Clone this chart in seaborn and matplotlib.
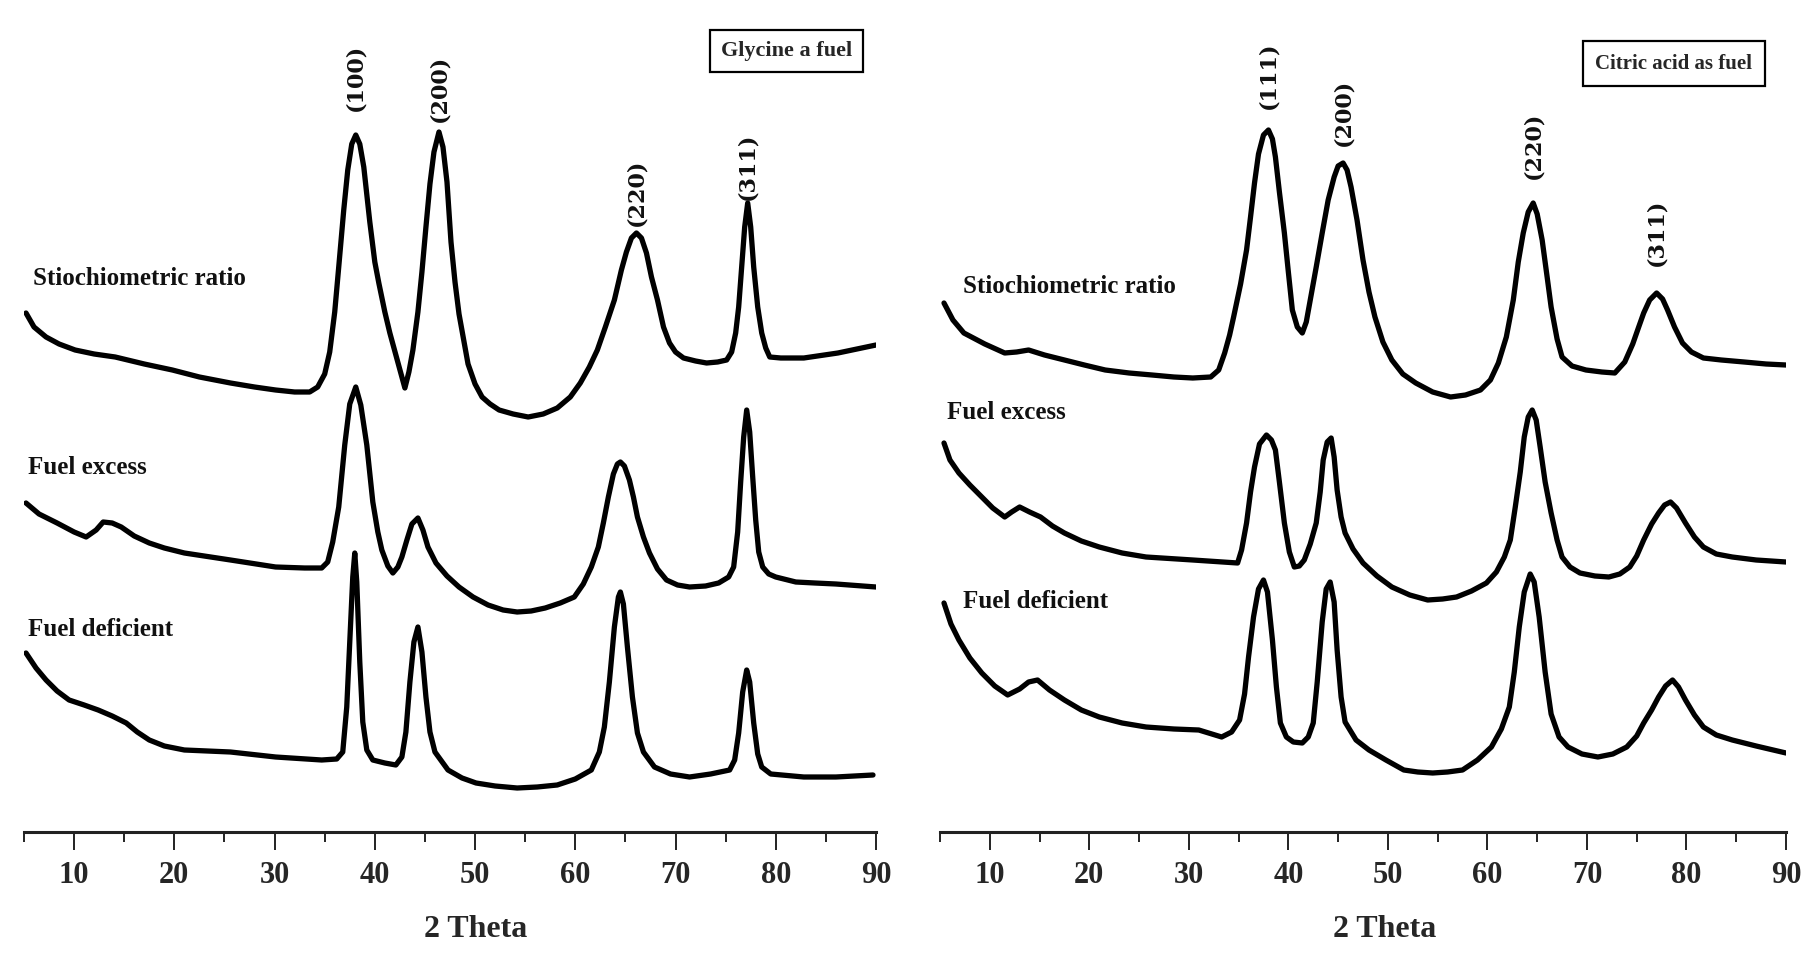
import matplotlib
matplotlib.use("Agg")
import matplotlib.pyplot as plt
import seaborn as sns
import pandas as pd
from matplotlib.ticker import MultipleLocator
from matplotlib import font_manager

# ---------------- data: (2theta, intensity a.u.) ----------------
# Glycine as fuel
gly_stoich = [(5.2,519),(6.0,505),(7.2,495),(8.5,488),(10.1,482),(12.0,478),(14.1,475),(17.0,468),
              (19.8,462),(22.5,455),(25.6,449),(28.0,445),(30.1,442),(32.0,440),(33.5,440),(34.3,445),
              (35.0,458),(35.5,480),(36.0,520),(36.4,565),(36.9,622),(37.3,662),(37.7,688),(38.1,697),
              (38.5,688),(38.9,665),(39.5,610),(40.0,570),(40.4,549),(41.0,520),(41.5,499),(42.1,477),
              (42.7,455),(43.0,444),(43.4,460),(43.8,482),(44.3,520),(44.7,560),(45.1,605),(45.5,648),
              (45.9,680),(46.4,700),(46.8,685),(47.2,650),(47.6,590),(48.0,550),(48.4,518),(49.3,468),
              (50.0,448),(50.7,435),(51.5,428),(52.4,422),(53.8,418),(55.3,415),(56.8,418),(58.2,424),
              (59.5,435),(60.5,449),(61.4,465),(62.2,482),(63.0,505),(63.9,532),(64.6,562),(65.1,580),
              (65.6,594),(66.1,599),(66.6,594),(67.1,579),(67.6,555),(68.2,532),(68.8,505),(69.4,489),
              (70.0,480),(70.8,474),(72.0,471),(73.1,469),(74.2,470),(75.1,472),(75.6,480),(76.0,499),
              (76.3,525),(76.6,565),(76.9,605),(77.2,629),(77.5,605),(77.8,565),(78.2,525),(78.6,499),
              (79.0,484),(79.4,475),(80.5,474),(82.8,474),(86.2,479),(90.0,487)]

gly_excess = [(5.2,329),(6.5,318),(8.3,309),(10.0,300),(11.2,295),(12.2,302),(12.9,310),(13.8,309),
              (14.7,305),(16.0,296),(17.5,289),(19.0,284),(21.0,279),(25.6,272),(30.1,265),(33.0,264),
              (34.7,264),(35.3,270),(35.8,290),(36.4,325),(37.0,387),(37.5,428),(38.1,445),(38.6,427),
              (39.2,387),(39.8,330),(40.3,300),(40.7,282),(41.3,266),(41.8,259),(42.3,265),(42.7,275),
              (43.2,292),(43.7,308),(44.3,314),(44.8,302),(45.3,285),(46.1,269),(47.2,256),(48.4,245),
              (49.8,235),(51.3,227),(52.8,222),(54.2,220),(55.6,221),(57.0,224),(58.5,229),(59.9,235),
              (60.8,248),(61.6,265),(62.3,285),(62.8,309),(63.3,335),(63.8,358),(64.2,368),(64.5,370),
              (64.9,366),(65.4,352),(65.8,335),(66.2,315),(66.8,295),(67.4,279),(68.2,263),(69.1,252),
              (70.2,247),(71.4,245),(73.0,246),(74.3,249),(75.3,255),(75.8,265),(76.2,300),(76.5,350),
              (76.8,395),(77.1,422),(77.4,400),(77.7,355),(78.0,312),(78.3,280),(78.7,265),(79.3,258),
              (80.0,255),(82.0,250),(83.9,249),(86.0,248),(90.0,245)]

gly_defic = [(5.2,179),(6.2,164),(7.2,152),(8.3,141),(9.5,132),(11.0,127),(12.4,122),(13.8,116),
             (15.2,109),(16.3,100),(17.5,92),(19.0,86),(21.0,82),(25.6,80),(30.1,75),(34.7,72),
             (36.2,73),(36.8,80),(37.2,125),(37.5,190),(37.8,255),(38.0,279),(38.2,250),(38.5,170),
             (38.8,110),(39.2,82),(39.8,72),(41.0,69),(42.1,67),(42.7,75),(43.1,100),(43.5,150),
             (43.9,190),(44.3,205),(44.7,180),(45.1,135),(45.5,100),(46.0,80),(47.3,62),(48.7,54),
             (50.1,49),(52.0,46),(54.2,44),(56.2,45),(58.2,47),(60.0,53),(61.6,62),(62.4,80),
             (62.9,105),(63.4,150),(63.9,205),(64.3,235),(64.5,240),(64.8,228),(65.2,185),(65.7,135),
             (66.2,99),(66.8,80),(67.9,65),(69.5,58),(71.4,55),(73.5,58),(75.4,62),(75.9,72),
             (76.3,99),(76.7,140),(77.1,162),(77.4,150),(77.8,109),(78.2,78),(78.6,65),(79.5,58),
             (82.8,55),(86.0,55),(89.7,57)]

# Citric acid as fuel
cit_stoich = [(5.4,529),(6.3,512),(7.4,499),(9.5,488),(11.5,479),(12.7,480),(13.9,482),(15.5,477),
              (17.5,472),(19.5,467),(21.6,462),(24.0,459),(26.3,457),(28.5,455),(30.4,454),(32.2,455),
              (33.0,462),(33.6,479),(34.1,497),(34.5,515),(35.2,548),(35.8,582),(36.2,615),(36.6,649),
              (37.0,678),(37.5,697),(38.0,702),(38.4,693),(38.7,675),(39.1,640),(39.6,599),(40.0,560),
              (40.4,522),(40.9,505),(41.4,499),(41.8,510),(42.2,532),(42.8,565),(43.4,599),(44.0,632),
              (44.6,655),(45.0,666),(45.5,669),(45.9,662),(46.3,645),(46.9,612),(47.5,572),(48.1,540),
              (48.7,515),(49.5,490),(50.4,472),(51.5,458),(52.8,449),(54.5,440),(56.3,435),(57.8,437),
              (59.3,442),(60.3,452),(61.1,469),(61.9,495),(62.6,532),(63.1,570),(63.6,599),(64.1,620),
              (64.6,629),(65.0,618),(65.5,592),(66.0,555),(66.4,525),(67.0,493),(67.5,475),(68.5,466),
              (69.9,462),(71.5,460),(72.8,459),(73.8,470),(74.6,488),(75.2,505),(75.7,519),(76.3,532),
              (77.0,539),(77.6,533),(78.1,522),(78.8,505),(79.6,489),(80.5,480),(81.7,474),(83.5,472),
              (85.8,470),(88.0,468),(90.0,467)]

cit_excess = [(5.4,389),(6.0,372),(6.9,359),(8.0,347),(9.2,335),(10.3,324),(11.5,315),(12.2,320),
              (13.0,325),(14.0,320),(15.1,315),(16.3,306),(17.5,299),(19.2,291),(21.0,285),(23.3,279),
              (25.7,275),(30.4,272),(34.9,269),(35.3,282),(35.8,309),(36.2,340),(36.6,365),(37.1,388),
              (37.8,397),(38.3,392),(38.7,382),(39.1,350),(39.6,309),(40.1,280),(40.6,265),(41.1,266),
              (41.6,272),(42.2,288),(42.8,309),(43.2,340),(43.5,372),(43.9,390),(44.3,394),(44.6,375),
              (44.9,342),(45.3,315),(45.7,299),(46.5,283),(47.5,269),(48.9,256),(50.4,245),(52.2,237),
              (54.0,232),(55.5,233),(56.9,235),(58.4,241),(59.9,249),(60.9,260),(61.7,275),(62.3,292),
              (62.8,325),(63.3,360),(63.7,395),(64.1,415),(64.5,422),(64.9,412),(65.3,385),(65.8,350),
              (66.4,319),(67.0,292),(67.5,275),(68.3,265),(69.3,259),(70.8,256),(72.2,255),(73.3,258),
              (74.3,265),(75.0,276),(75.7,292),(76.5,308),(77.2,319),(77.8,327),(78.4,330),(79.0,324),
              (79.9,309),(80.8,295),(81.7,285),(83.0,278),(84.6,275),(87.0,272),(90.0,270)]

cit_defic = [(5.4,229),(6.1,208),(6.9,192),(8.0,174),(9.2,159),(10.5,146),(11.8,137),(13.0,143),
             (13.9,150),(14.8,152),(16.0,142),(17.5,132),(19.2,122),(21.0,115),(23.3,109),(25.7,105),
             (28.5,103),(31.0,102),(33.3,95),(34.3,100),(35.1,112),(35.6,138),(36.0,175),(36.5,215),
             (37.0,243),(37.5,252),(37.9,240),(38.4,192),(38.8,145),(39.2,109),(39.8,95),(40.5,90),
             (41.4,89),(42.0,95),(42.5,109),(42.9,150),(43.4,210),(43.8,243),(44.2,250),(44.6,230),
             (44.9,182),(45.3,135),(45.7,110),(46.8,92),(48.1,82),(49.8,72),(51.6,62),(53.0,60),
             (54.5,59),(56.0,60),(57.5,62),(59.0,72),(60.4,85),(61.4,103),(62.2,125),(62.7,160),
             (63.2,205),(63.7,240),(64.3,258),(64.7,250),(65.2,215),(65.8,160),(66.4,118),(67.2,95),
             (68.1,85),(69.5,78),(71.1,75),(72.6,78),(74.0,85),(75.0,96),(75.7,109),(76.5,122),
             (77.2,135),(77.9,146),(78.6,152),(79.2,145),(79.9,132),(80.8,117),(81.7,105),(83.0,97),
             (84.6,92),(87.0,86),(90.0,79)]

sample_names = ["Stiochiometric ratio", "Fuel excess", "Fuel deficient"]
panel_titles = ["Glycine a fuel", "Citric acid as fuel"]
gly_peaks = ["(100)", "(200)", "(220)", "(311)"]
cit_peaks = ["(111)", "(200)", "(220)", "(311)"]
major_ticks = [10, 20, 30, 40, 50, 60, 70, 80, 90]
x_label = "2 Theta"

# ---------------- style ----------------
sns.set_theme(style="white")
available = {f.name for f in font_manager.fontManager.ttflist}
serif = "Liberation Serif" if "Liberation Serif" in available else "DejaVu Serif"
plt.rcParams["font.family"] = [serif, "DejaVu Serif"]

fig = plt.figure(figsize=(18.19, 9.59), dpi=100)
ax_l = fig.add_axes([0.01319, 0.13243, 0.46839, 0.86757])
ax_r = fig.add_axes([0.51677, 0.13243, 0.46509, 0.86757])

panels = [(ax_l, [gly_stoich, gly_excess, gly_defic]),
          (ax_r, [cit_stoich, cit_excess, cit_defic])]

for ax, traces in panels:
    for trace, name in zip(traces, sample_names):
        df = pd.DataFrame(trace, columns=["two_theta", "intensity"])
        sns.lineplot(data=df, x="two_theta", y="intensity", ax=ax, color="black",
                     linewidth=3.8, estimator=None, sort=True)
    ax.set_xlim(5, 90)
    ax.set_ylim(0, 832)
    ax.set_yticks([])
    ax.set_ylabel("")
    for s in ["left", "right", "top"]:
        ax.spines[s].set_visible(False)
    ax.spines["bottom"].set_linewidth(2.2)
    ax.spines["bottom"].set_color("#222222")
    ax.xaxis.set_major_locator(MultipleLocator(10))
    ax.xaxis.set_minor_locator(MultipleLocator(5))
    ax.tick_params(axis="x", which="major", direction="out", length=13, width=1.4,
                   color="#222222", pad=8, bottom=True)
    ax.tick_params(axis="x", which="minor", direction="out", length=7, width=1.4,
                   color="#222222", bottom=True)
    ax.set_xticks(major_ticks)
    ax.set_xticklabels([str(t) for t in major_ticks], fontweight="bold", fontsize=22)
    ax.set_xlabel(x_label, fontsize=23, fontweight="bold")
    ax.set_facecolor("white")

ax_l.xaxis.set_label_coords(0.53, -0.100)
ax_r.xaxis.set_label_coords(0.526, -0.100)

lab_kw = dict(fontsize=18, fontweight="bold", ha="left", va="center", color="#111111")
ax_l.text(5.9, 553, sample_names[0], **lab_kw)
ax_l.text(5.4, 364, sample_names[1], **lab_kw)
ax_l.text(5.4, 202, sample_names[2], **lab_kw)
ax_r.text(7.3, 545, sample_names[0], **lab_kw)
ax_r.text(5.7, 419, sample_names[1], **lab_kw)
ax_r.text(7.3, 230, sample_names[2], **lab_kw)

pk_kw = dict(fontsize=16, fontweight="bold", rotation=90, ha="center", va="center",
             family=["DejaVu Serif"], color="#111111")
for lab, (x, y) in zip(gly_peaks, [(38.1, 755), (46.4, 744), (66.1, 640), (77.2, 666)]):
    ax_l.text(x, y, lab, **pk_kw)
for lab, (x, y) in zip(cit_peaks, [(38.0, 757), (45.5, 720), (64.6, 687), (77.0, 600)]):
    ax_r.text(x, y, lab, **pk_kw)

ax_l.text(81.1, 781, panel_titles[0], fontsize=16, fontweight="bold", ha="center", va="center",
          bbox=dict(boxstyle="square,pad=0.5", facecolor="white", edgecolor="black", linewidth=1.6))
ax_r.text(78.7, 768, panel_titles[1], fontsize=15, fontweight="bold", ha="center", va="center",
          bbox=dict(boxstyle="square,pad=0.6", facecolor="white", edgecolor="black", linewidth=1.6))

fig.savefig("out.png", dpi=100, facecolor="white")
